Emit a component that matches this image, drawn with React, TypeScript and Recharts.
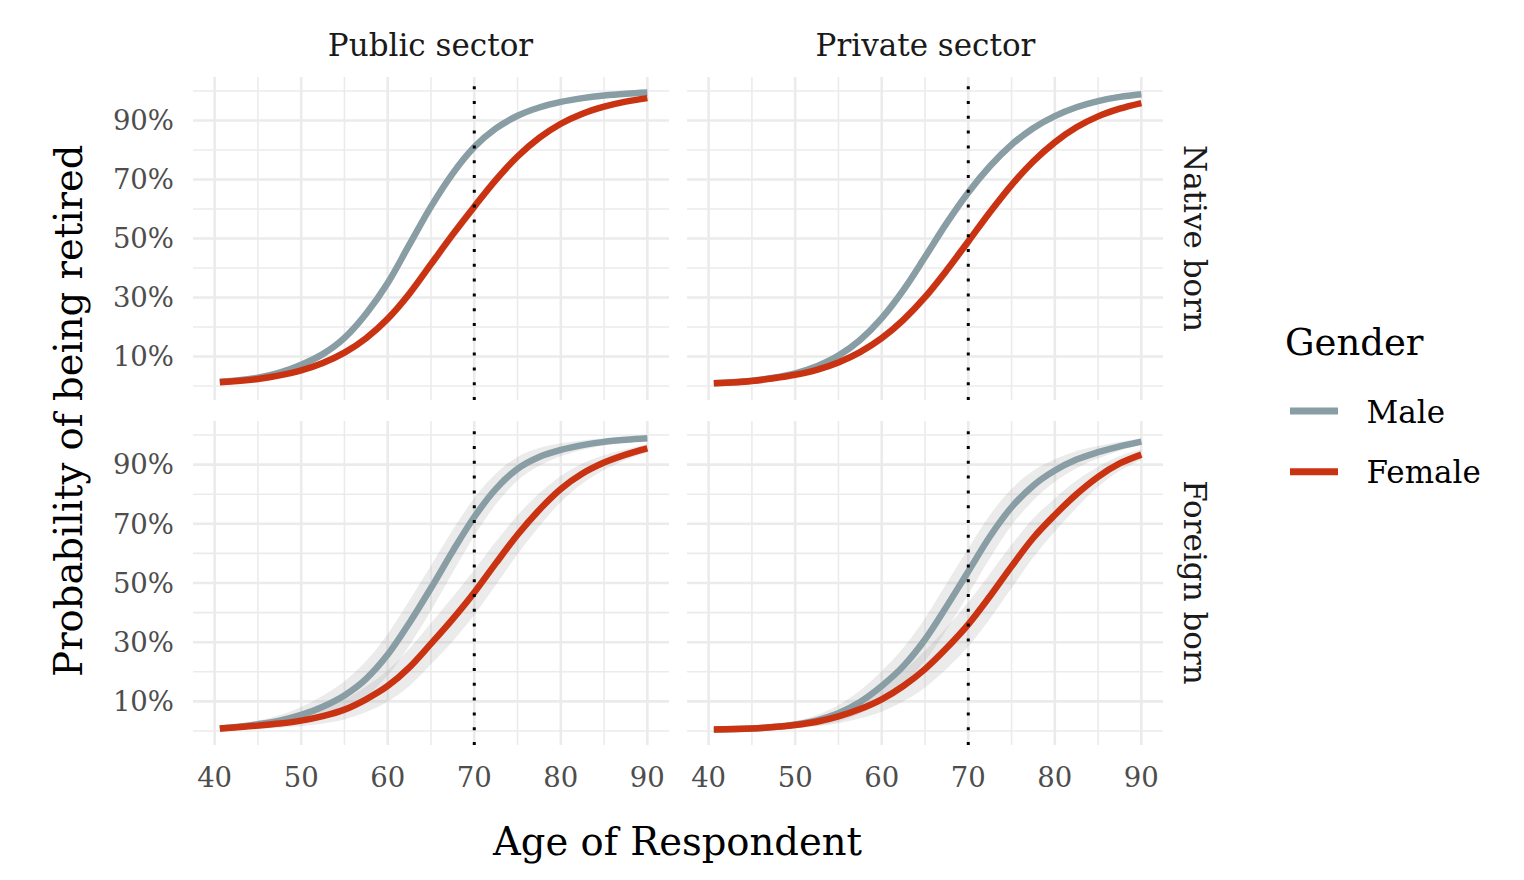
import React from 'react';
import { ComposedChart, Line, Area, XAxis, YAxis, CartesianGrid, ReferenceLine } from 'recharts';

// ---------- data ----------
const ages = [40.6, 45, 47.5, 50, 52.5, 55, 57.5, 60, 62.5, 65, 67.5, 70, 72.5, 75, 77.5, 80, 82.5, 85, 87.5, 90];

const publicNativeMale = [1.4, 2.8, 4.5, 7.2, 10.8, 16.3, 24.5, 34.9, 47.9, 60.8, 72.0, 81.0, 87.3, 91.6, 94.4, 96.3, 97.6, 98.5, 99.1, 99.5];
const publicNativeFemale = [1.3, 2.4, 3.6, 5.3, 7.8, 11.3, 16.2, 22.8, 31.3, 41.3, 51.3, 60.8, 69.9, 77.8, 84.1, 88.9, 92.3, 94.7, 96.4, 97.6];
const privateNativeMale = [0.9, 1.8, 2.8, 4.3, 6.7, 10.3, 15.6, 23.0, 32.5, 43.7, 55.2, 65.6, 74.5, 81.8, 87.4, 91.5, 94.5, 96.6, 98.0, 98.9];
const privateNativeFemale = [0.9, 1.7, 2.6, 3.8, 5.5, 8.0, 11.5, 16.2, 22.4, 30.1, 39.2, 49.0, 58.9, 68.1, 76.1, 82.6, 87.7, 91.4, 94.0, 95.9];
const publicForeignMale = [0.8, 2.3, 3.5, 5.4, 8.2, 12.0, 17.6, 25.8, 36.5, 48.3, 60.7, 72.3, 81.8, 88.6, 92.6, 95.0, 96.6, 97.7, 98.4, 98.9];
const publicForeignFemale = [0.8, 1.8, 2.5, 3.5, 5.0, 7.2, 10.7, 15.2, 21.5, 29.5, 37.8, 46.8, 56.7, 66.3, 74.7, 81.8, 87.0, 90.7, 93.4, 95.5];
const privateForeignMale = [0.5, 0.8, 1.3, 2.2, 3.6, 6.0, 9.8, 15.2, 21.9, 30.9, 42.1, 53.9, 65.7, 75.6, 82.9, 88.0, 91.7, 94.2, 96.2, 97.8];
const privateForeignFemale = [0.5, 0.8, 1.3, 2.0, 3.1, 4.9, 7.4, 10.7, 15.2, 20.9, 28.0, 36.0, 45.5, 55.6, 65.2, 73.0, 80.0, 85.9, 90.4, 93.4];

// half-widths of the confidence ribbons (percentage points)
const publicNativeMaleCI = [0.3, 0.5, 0.7, 0.9, 1.2, 1.5, 1.8, 2.0, 2.1, 2.0, 1.8, 1.5, 1.2, 0.9, 0.7, 0.5, 0.4, 0.3, 0.2, 0.2];
const publicNativeFemaleCI = [0.3, 0.4, 0.5, 0.7, 0.9, 1.2, 1.5, 1.8, 2.0, 2.1, 2.1, 2.0, 1.8, 1.5, 1.2, 0.9, 0.7, 0.5, 0.4, 0.3];
const privateNativeMaleCI = [0.2, 0.3, 0.4, 0.6, 0.8, 1.1, 1.4, 1.7, 1.9, 2.0, 1.9, 1.7, 1.5, 1.2, 0.9, 0.7, 0.5, 0.4, 0.3, 0.2];
const privateNativeFemaleCI = [0.2, 0.3, 0.4, 0.5, 0.7, 0.9, 1.2, 1.4, 1.7, 1.9, 2.0, 2.0, 1.9, 1.7, 1.5, 1.2, 1.0, 0.8, 0.6, 0.5];
const publicForeignMaleCI = [0.5, 1.2, 1.8, 2.7, 3.7, 4.8, 6.0, 7.0, 7.6, 7.6, 7.2, 6.4, 5.2, 4.0, 3.0, 2.2, 1.6, 1.2, 0.9, 0.7];
const publicForeignFemaleCI = [0.5, 1.0, 1.4, 1.9, 2.5, 3.3, 4.3, 5.3, 6.3, 7.0, 7.5, 7.6, 7.3, 6.6, 5.6, 4.4, 3.4, 2.5, 1.8, 1.4];
const privateForeignMaleCI = [0.3, 0.5, 0.7, 1.1, 1.8, 2.8, 3.9, 5.1, 6.2, 7.2, 7.8, 7.8, 7.3, 6.2, 5.0, 3.8, 2.9, 2.1, 1.5, 1.0];
const privateForeignFemaleCI = [0.3, 0.5, 0.7, 1.0, 1.6, 2.3, 3.2, 4.2, 5.2, 6.2, 7.0, 7.5, 7.6, 7.3, 6.6, 5.6, 4.6, 3.4, 2.5, 1.8];

const xTicks = [40, 50, 60, 70, 80, 90];
const xMinor = [45, 55, 65, 75, 85];
const yTicks = [10, 30, 50, 70, 90];
const yMinor = [0, 20, 40, 60, 80, 100];
const sectors = ['Public sector', 'Private sector'];
const origins = ['Native born', 'Foreign born'];
const genders = ['Male', 'Female'];
const retirementAge = 70;

// ---------- style ----------
const FONT = 'DejaVu Serif';
const MALE = '#899DA4';
const FEMALE = '#C93312';
const GRID = '#EBEBEB';
const X_DOMAIN: [number, number] = [37.5, 92.5];
const Y_DOMAIN: [number, number] = [-4.75, 104.75];

function buildData(m: number[], f: number[], mc: number[], fc: number[]) {
  return ages.map((age, i) => ({
    age,
    male: m[i],
    female: f[i],
    maleBand: [Math.max(0, m[i] - mc[i]), Math.min(100, m[i] + mc[i])],
    femaleBand: [Math.max(0, f[i] - fc[i]), Math.min(100, f[i] + fc[i])],
  }));
}

const panels = [
  { key: 'pn', data: buildData(publicNativeMale, publicNativeFemale, publicNativeMaleCI, publicNativeFemaleCI), left: 102.5, top: 77, showY: true, showX: false },
  { key: 'vn', data: buildData(privateNativeMale, privateNativeFemale, privateNativeMaleCI, privateNativeFemaleCI), left: 687, top: 77, showY: false, showX: false },
  { key: 'pf', data: buildData(publicForeignMale, publicForeignFemale, publicForeignMaleCI, publicForeignFemaleCI), left: 102.5, top: 420.5, showY: true, showX: true },
  { key: 'vf', data: buildData(privateForeignMale, privateForeignFemale, privateForeignMaleCI, privateForeignFemaleCI), left: 687, top: 420.5, showY: false, showX: true },
];

const PANEL_W = 476;
const Y_AXIS_W = 90;
const X_AXIS_H = 60;

function Panel(props: any) {
  const { data, left, top, showX, showY } = props;
  const plotH = showX ? 324 : 323;
  const width = PANEL_W + (showY ? Y_AXIS_W : 0);
  const height = plotH + (showX ? X_AXIS_H : 0);
  const tickStyle = { fontSize: 27.5, fill: '#4D4D4D', fontFamily: FONT };
  return (
    <div style={{ position: 'absolute', left, top }}>
      <ComposedChart width={width} height={height} data={data} margin={{ top: 0, right: 0, bottom: 0, left: 0 }}>
        <CartesianGrid stroke={GRID} strokeWidth={1.6} horizontalValues={yMinor} verticalValues={xMinor} />
        <CartesianGrid stroke={GRID} strokeWidth={2.6} horizontalValues={yTicks} verticalValues={xTicks} />
        <XAxis
          type="number"
          dataKey="age"
          domain={X_DOMAIN}
          ticks={xTicks}
          interval={0}
          hide={!showX}
          height={X_AXIS_H}
          axisLine={false}
          tickLine={false}
          tickSize={0}
          tickMargin={22.5}
          tick={tickStyle}
          allowDataOverflow
        />
        <YAxis
          type="number"
          domain={Y_DOMAIN}
          ticks={yTicks}
          interval={0}
          hide={!showY}
          width={Y_AXIS_W}
          axisLine={false}
          tickLine={false}
          tickSize={0}
          tickMargin={19}
          tick={tickStyle}
          tickFormatter={(v: number) => `${v}%`}
          allowDataOverflow
        />
        <Area type="monotone" dataKey="maleBand" stroke="none" fill="#9a9a9a" fillOpacity={0.2} isAnimationActive={false} dot={false} activeDot={false} />
        <Area type="monotone" dataKey="femaleBand" stroke="none" fill="#9a9a9a" fillOpacity={0.2} isAnimationActive={false} dot={false} activeDot={false} />
        <Line type="monotone" dataKey="male" name={genders[0]} stroke={MALE} strokeWidth={6.5} dot={false} activeDot={false} isAnimationActive={false} />
        <Line type="monotone" dataKey="female" name={genders[1]} stroke={FEMALE} strokeWidth={6.5} dot={false} activeDot={false} isAnimationActive={false} />
        <ReferenceLine x={retirementAge} stroke="#000" strokeWidth={3} strokeDasharray="3 11.8" zIndex={1000} />
      </ComposedChart>
    </div>
  );
}

export default function App() {
  return (
    <div style={{ position: 'absolute', left: 0, top: 0, width: 1524, height: 880, background: '#fff', fontFamily: FONT }}>
      {panels.map((p) => (
        <Panel key={p.key} {...p} />
      ))}
      <svg width={1524} height={880} style={{ position: 'absolute', left: 0, top: 0, pointerEvents: 'none' }}>
        <g fontFamily={FONT}>
          <text x={430.5} y={56} textAnchor="middle" fontSize={31} fill="#1A1A1A">{sectors[0]}</text>
          <text x={925.5} y={56} textAnchor="middle" fontSize={31} fill="#1A1A1A">{sectors[1]}</text>
          <text x={1184} y={238.5} textAnchor="middle" fontSize={31} fill="#1A1A1A" transform="rotate(90, 1184, 238.5)">{origins[0]}</text>
          <text x={1184} y={582.5} textAnchor="middle" fontSize={31} fill="#1A1A1A" transform="rotate(90, 1184, 582.5)">{origins[1]}</text>
          <text x={82.5} y={410.7} textAnchor="middle" fontSize={38.5} fill="#000" transform="rotate(-90, 82.5, 410.7)">Probability of being retired</text>
          <text x={677.5} y={855} textAnchor="middle" fontSize={38.5} fill="#000">Age of Respondent</text>
          <text x={1285} y={355} fontSize={37} fill="#000">Gender</text>
          <line x1={1290} x2={1338} y1={411} y2={411} stroke={MALE} strokeWidth={7} />
          <line x1={1290} x2={1338} y1={471.7} y2={471.7} stroke={FEMALE} strokeWidth={7} />
          <text x={1366.5} y={422.7} fontSize={31} fill="#000">{genders[0]}</text>
          <text x={1366.5} y={483.3} fontSize={31} fill="#000">{genders[1]}</text>
        </g>
      </svg>
    </div>
  );
}
